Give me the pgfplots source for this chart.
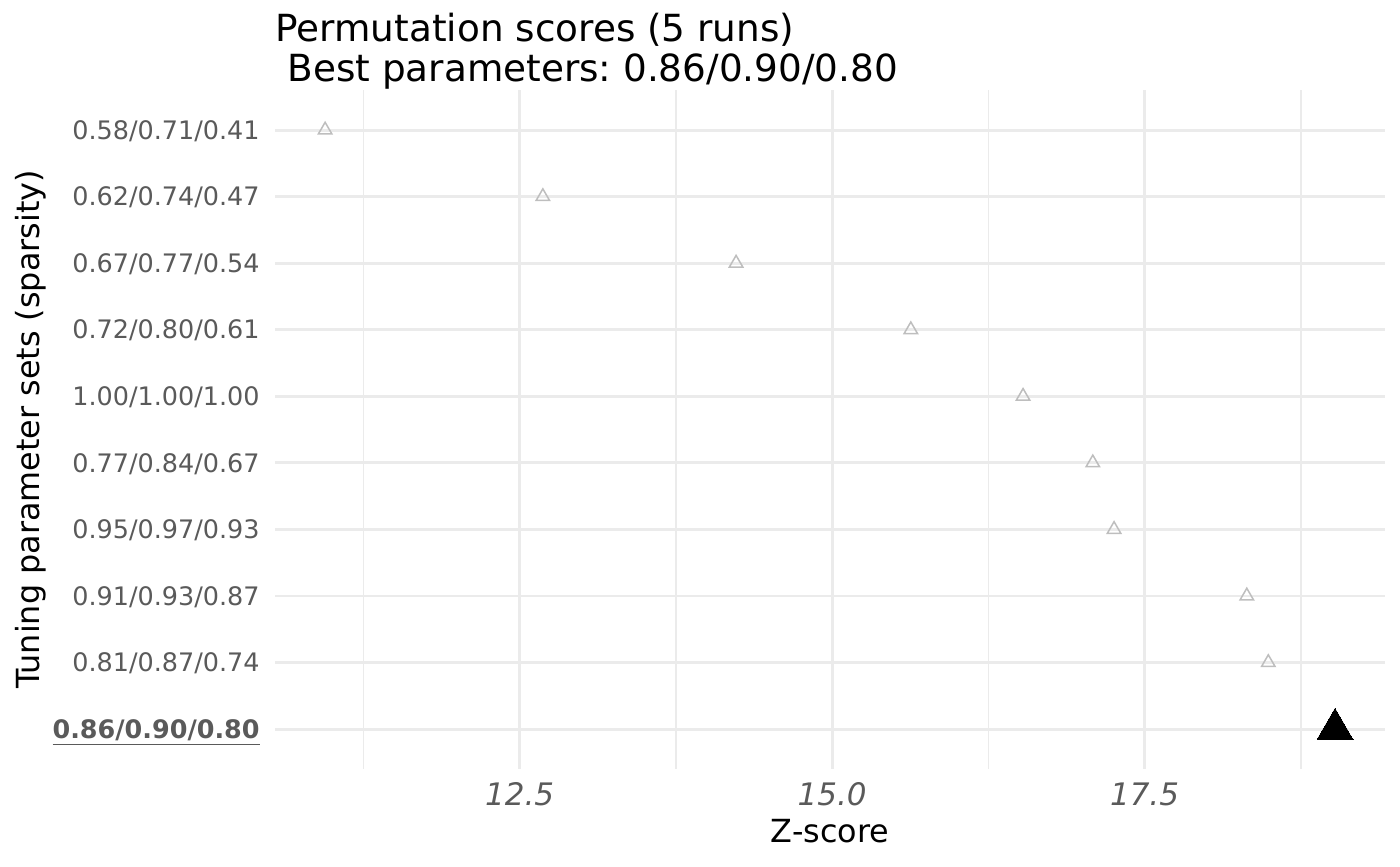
\documentclass[border=0pt]{standalone}
\usepackage{fontspec}
\setmainfont{DejaVu Sans}
\usepackage{pgfplots}
\pgfplotsset{compat=1.18}
\definecolor{gridgray}{RGB}{235,235,235}
\definecolor{tickgray}{RGB}{90,90,90}
\definecolor{ptgray}{RGB}{190,190,190}
\frenchspacing

\begin{document}
\begin{tikzpicture}
\begin{axis}[
  scale only axis,
  width=401.0pt, height=245.3pt,
  xmin=10.544, xmax=19.424,
  ymin=0.4, ymax=10.6,
  axis line style={draw=none},
  major tick length=0pt, minor tick length=0pt,
  tick style={draw=none},
  xtick={12.5,15,17.5},
  xticklabels={12.5,15.0,17.5},
  minor xtick={11.25,13.75,16.25,18.75},
  ytick={1,2,3,4,5,6,7,8,9,10},
  yticklabels={{\underline{\textbf{0.86/0.90/0.80}}},0.81/0.87/0.74,0.91/0.93/0.87,0.95/0.97/0.93,0.77/0.84/0.67,1.00/1.00/1.00,0.72/0.80/0.61,0.67/0.77/0.54,0.62/0.74/0.47,0.58/0.71/0.41},
  xmajorgrids, xminorgrids, ymajorgrids,
  major grid style={gridgray, line width=1.07pt},
  minor grid style={gridgray, line width=0.53pt},
  xticklabel style={font=\fontsize{11.2}{13}\selectfont\itshape, text=tickgray, anchor=base, inner sep=0pt, yshift=-13pt},
  yticklabel style={font=\fontsize{9.2}{11}\selectfont, text=tickgray, anchor=base east, inner sep=0pt, xshift=-5.4pt, yshift=-3.35pt},
]
% other parameter sets
\addplot[only marks, mark=triangle, mark size=2.8pt, draw=ptgray,
  mark options={line width=0.55pt, draw=ptgray, fill=none}]
  coordinates {
    (10.944,10) (12.686,9) (14.232,8) (15.630,7) (16.528,6)
    (17.086,5) (17.256,4) (18.318,3) (18.490,2)
  };
% best parameter set
\addplot[only marks, mark=triangle*, mark size=7.5pt, color=black,
  mark options={line width=0pt}]
  coordinates {(19.024,1)};
\coordinate (BL) at (rel axis cs:0,0);
\coordinate (TL) at (rel axis cs:0,1);
\coordinate (ML) at (rel axis cs:0,0.5);
\coordinate (BM) at (rel axis cs:0.5,0);
\end{axis}
\node[anchor=base west, inner sep=0pt, font=\fontsize{13.5}{15}\selectfont] at ([yshift=17.45pt]TL) {Permutation scores (5 runs)};
\node[anchor=base west, inner sep=0pt, font=\fontsize{13.5}{15}\selectfont] at ([yshift=3.25pt]TL) {\mbox{}\ Best parameters: 0.86/0.90/0.80};
\node[rotate=90, anchor=base, inner sep=0pt, font=\fontsize{11.5}{13}\selectfont] at ([xshift=-85pt]ML) {Tuning parameter sets (sparsity)};
\node[anchor=base, inner sep=0pt, font=\fontsize{11.5}{13}\selectfont] at ([yshift=-26.7pt]BM) {Z-score};
\pgfresetboundingbox
\path[use as bounding box] (BL) ++(-99.4pt,-35.05pt) rectangle ++(505.8pt,312.9pt);
\end{tikzpicture}
\end{document}
